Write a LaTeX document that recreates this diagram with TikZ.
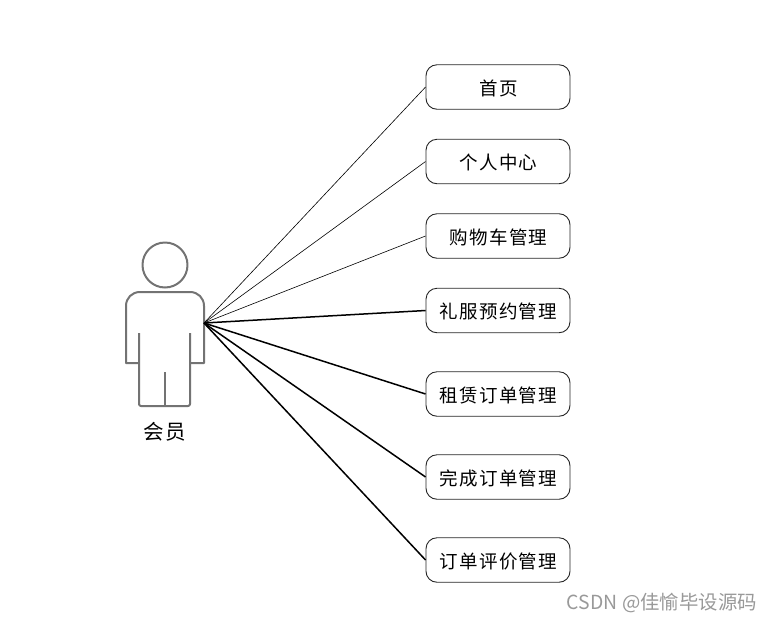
\documentclass[tikz,border=0pt]{standalone}
\usepackage{fontspec}
\setmainfont{Noto Sans CJK SC}
\newfontfamily\labelfont[LetterSpace=7]{Noto Sans CJK SC}
\newfontfamily\markfont{Noto Sans CJK SC}
\tikzset{
  x=1pt,y=-1pt,
  usecase/.style={draw=black!85,line width=0.9pt,rounded corners=11pt,minimum width=144pt,minimum height=44.5pt,inner sep=0pt,text depth=0pt,font=\labelfont\fontsize{18.5pt}{20pt}\selectfont},
  thinlink/.style={draw=black,line width=0.6pt},
  boldlink/.style={draw=black,line width=1.5pt},
  figure/.style={draw=black!55,line width=2pt,line join=round},
}
\begin{document}
\begin{tikzpicture}
\useasboundingbox (0,0) rectangle (772,622);
\draw[figure] (165,265) circle (22.5);
\draw[figure] (139,363) -- (126,363) -- (126,306) .. controls (126,298) and (132,292) .. (140,292) -- (190,292) .. controls (198,292) and (204,298) .. (204,306) -- (204,363) -- (190,363);
\draw[figure,rounded corners=2pt] (139,333) -- (139,406) -- (190,406) -- (190,333);
\draw[figure] (165,372) -- (165,406);
\coordinate (hand) at (204,323);
\node[font=\labelfont\fontsize{20.5pt}{22pt}\selectfont] (actor) at (165,432) {会员};
\node[usecase] (a) at (498,87) {\hspace{1pt}\raisebox{-0.5pt}{首页}};
\node[usecase] (b) at (498,161.5) {\hspace{1pt}\raisebox{-0.5pt}{个人中心}};
\node[usecase] (c) at (498,236) {\hspace{1pt}\raisebox{-0.5pt}{购物车管理}};
\node[usecase] (d) at (498,310.5) {\hspace{1pt}\raisebox{-0.5pt}{礼服预约管理}};
\node[usecase] (e) at (498,394) {\hspace{1pt}\raisebox{-0.5pt}{租赁订单管理}};
\node[usecase] (f) at (498,477) {\hspace{1pt}\raisebox{-0.5pt}{完成订单管理}};
\node[usecase] (g) at (498,560) {\hspace{1pt}\raisebox{-0.5pt}{订单评价管理}};
\foreach \t in {a,b,c} \draw[thinlink] (hand) -- (\t.west);
\foreach \t in {d,e,f,g} \draw[boldlink] (hand) -- (\t.west);
\node[font=\markfont\fontsize{19.4pt}{22pt}\selectfont,text=black!40,anchor=east,inner sep=0pt] (mark) at (757,603) {CSDN @佳愉毕设源码};
\end{tikzpicture}
\end{document}
